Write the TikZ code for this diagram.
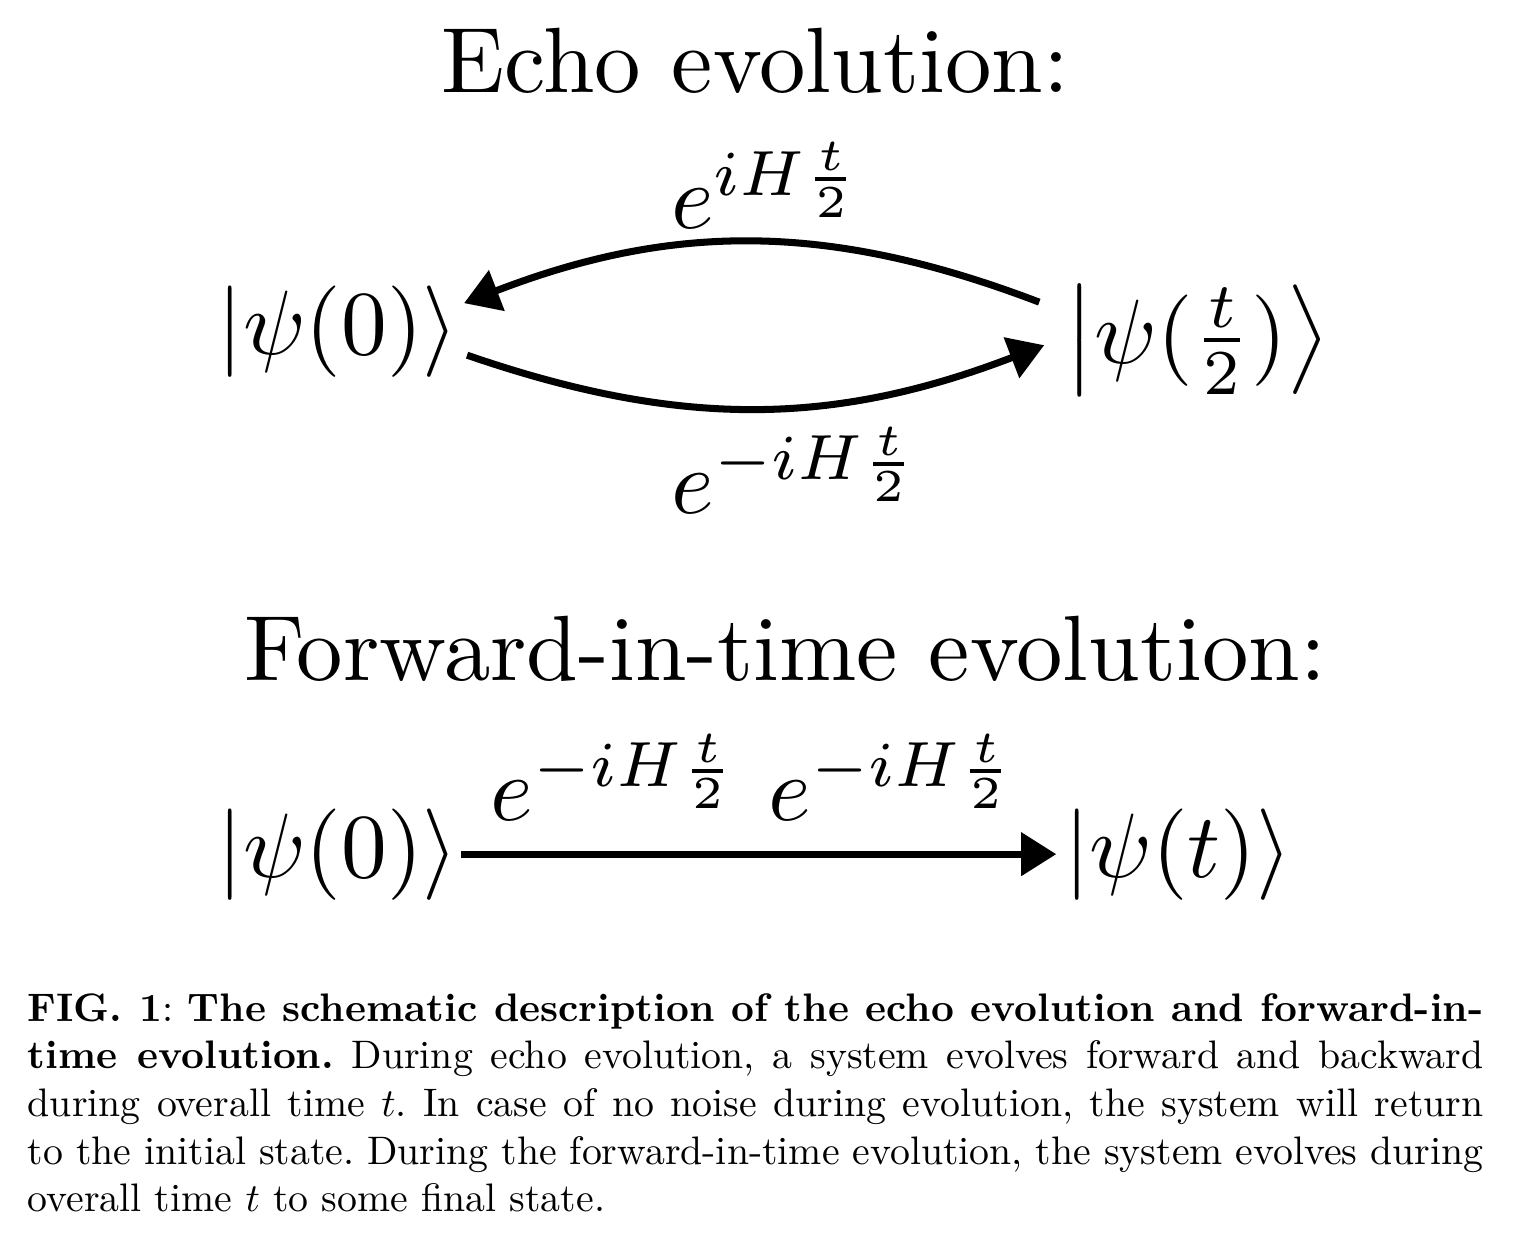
\documentclass[tikz,border=0pt]{standalone}
\usetikzlibrary{arrows.meta, positioning}

\begin{document}
\begin{tikzpicture}[
  big/.style={inner sep=0pt, scale=2.6},
  heading/.style={inner sep=0pt, anchor=base, scale=2.64},
  state/.style={anchor=base, big},
  arr/.style={-{Triangle[length=10pt, width=12pt]}, line width=2pt},
  captext/.style={font=\frenchspacing, text width=12.86cm, align=justify,
                  inner sep=0pt, anchor=base west, scale=1.132}
]
  \useasboundingbox (0,0) rectangle (15.18,-12.46);

  % Echo evolution
  \node[heading] (echo) at (7.55,-0.92) {Echo evolution:};
  \node[state] (zero) at (3.38,-3.54) {$|\psi(0)\rangle$};
  \node[state] (half) at (11.97,-3.63) {$\left|\psi(\frac{t}{2})\right\rangle$};

  \draw[arr] ([xshift=-0.23cm, yshift=0.38cm]half.west) to[bend right=21]
    node[above=0.05cm, xshift=0.15cm, big] (back) {$e^{iH\frac{t}{2}}$}
    ([xshift=0.04cm, yshift=0.28cm]zero.east);
  \draw[arr] ([xshift=0.07cm, yshift=-0.24cm]zero.east) to[bend right=20]
    node[below=0.1cm, xshift=0.39cm, big] (forth) {$e^{-iH\frac{t}{2}}$}
    ([xshift=-0.18cm, yshift=-0.05cm]half.west);

  % Forward-in-time evolution
  \node[heading] (fwd) at (7.85,-6.80) {Forward-in-time evolution:};
  \node[state] (zero2) at (3.38,-8.77) {$|\psi(0)\rangle$};
  \node[state] (final) at (11.78,-8.77) {$|\psi(t)\rangle$};

  \draw[arr] ([xshift=0.01cm]zero2.east) --
    node[above=0.25cm, xshift=-0.05cm, big] (twice) {$e^{-iH\frac{t}{2}}\ e^{-iH\frac{t}{2}}$}
    ([xshift=-0.06cm]final.west);

  % caption
  \node[captext] (caption) at (0.27,-10.21) {{\bfseries FIG.~1}: {\bfseries The schematic
    description of the echo evolution and forward-in-\linebreak time evolution.}
    During echo evolution, a system evolves forward and backward\linebreak
    during overall time $t$. In case of no noise during evolution, the system will
    return\linebreak to the initial state. During the forward-in-time evolution, the
    system evolves during\linebreak overall time $t$ to some final state.};
\end{tikzpicture}
\end{document}
